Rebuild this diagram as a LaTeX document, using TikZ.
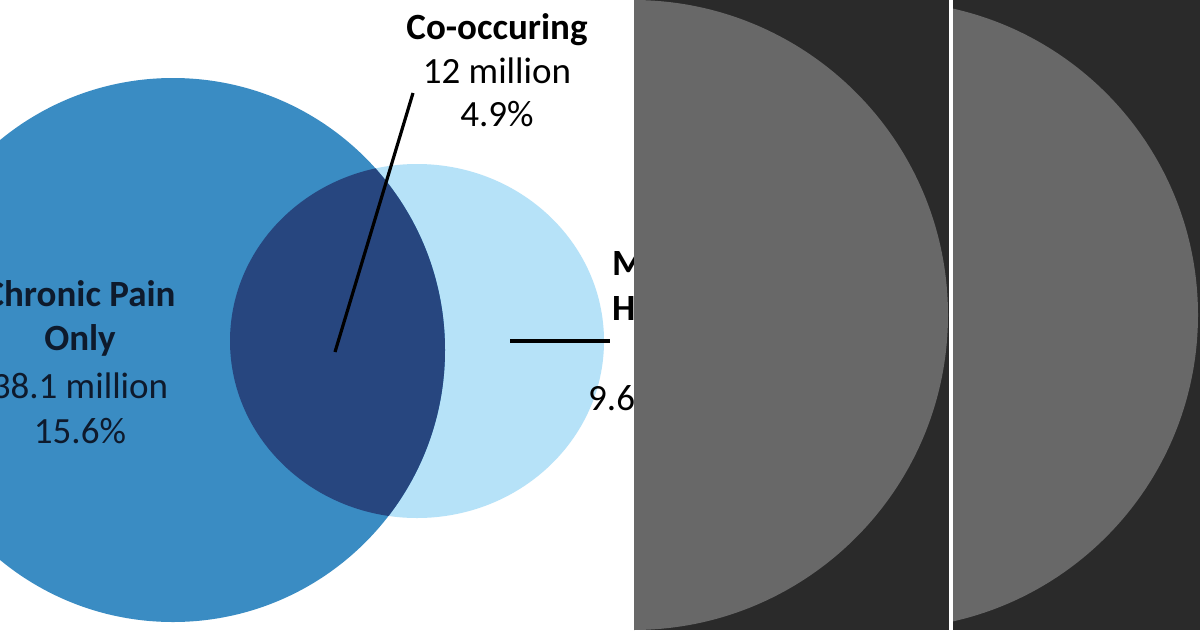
\documentclass[tikz,border=0pt]{standalone}
\usepackage{fontspec}
\setmainfont{Carlito}
\definecolor{bigblue}{HTML}{3A8CC3}
\definecolor{lightblue}{HTML}{B6E2F8}
\definecolor{navy}{HTML}{27467F}
\definecolor{ink}{HTML}{0E1A2C}
\definecolor{panel}{HTML}{2A2A2A}
\definecolor{disc}{HTML}{686868}
\tikzset{
  lbl/.style={anchor=base,inner sep=0pt,font=\fontsize{37}{44}\selectfont,text=ink},
  lblb/.style={lbl,font=\fontsize{37}{44}\selectfont\bfseries},
  leader/.style={line width=3.2pt,black}
}
\begin{document}
\begin{tikzpicture}[x=1pt,y=-1pt]
\useasboundingbox (0,0) rectangle (1200,630);
\clip (0,0) rectangle (1200,630);
\fill[white] (0,0) rectangle (1200,630);
% Venn
\fill[lightblue] (417,341) ellipse[x radius=187,y radius=177];
\fill[bigblue] (173,350) circle[radius=272];
\begin{scope}
  \clip (417,341) ellipse[x radius=187,y radius=177];
  \fill[navy] (173,350) circle[radius=272];
\end{scope}
% labels
\node[lblb,text=black] (co) at (497,39) {Co-occuring};
\node[lbl,text=black] (com) at (497,83) {12 million};
\node[lbl,text=black] (cop) at (497,126) {4.9\%};
\node[lblb] (cp1) at (80,306) {Chronic Pain};
\node[lblb] (cp2) at (80,350) {Only};
\node[lbl] (cp3) at (80,398) {38.1 million};
\node[lbl] (cp4) at (80,443) {15.6\%};
\node[lblb,anchor=base west,text=black] (mh1) at (612,275) {M};
\node[lblb,anchor=base west,text=black] (mh2) at (612,320) {H};
\node[lbl,anchor=base west,text=black] (mh3) at (588,410) {9.6};
% leaders
\coordinate (a1) at (335,352);
\coordinate (a2) at (413,93);
\draw[leader] (a1) -- (a2);
\coordinate (b1) at (510,341);
\coordinate (b2) at (610,341);
\draw[leader] (b1) -- (b2);
% dark panel
\fill[panel] (634,0) rectangle (1200,630);
\begin{scope}
  \clip (634,0) rectangle (949,630);
  \fill[disc] (633,315) circle[radius=315];
\end{scope}
\fill[white] (949,0) rectangle (953,630);
\begin{scope}
  \clip (953,0) rectangle (1200,630);
  \fill[disc] (884,315) circle[radius=314];
\end{scope}
\end{tikzpicture}
\end{document}
